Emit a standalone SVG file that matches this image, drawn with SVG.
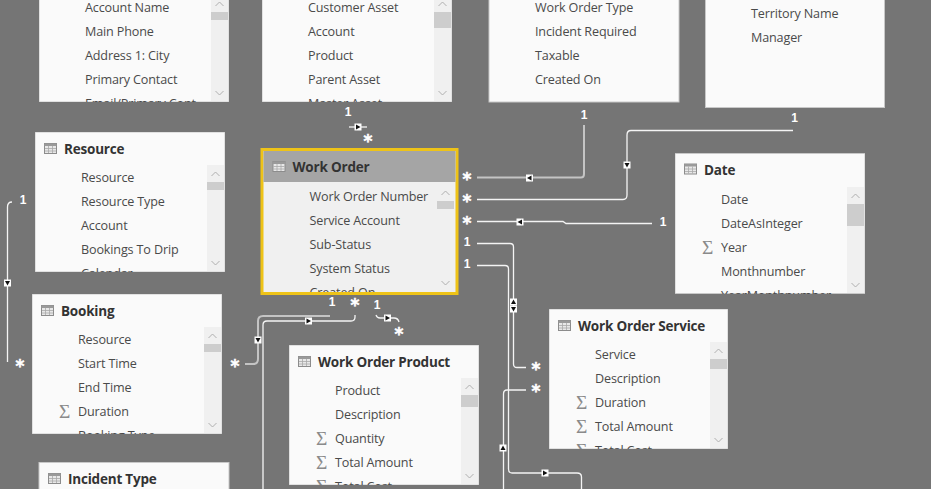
<svg xmlns="http://www.w3.org/2000/svg" xmlns:xlink="http://www.w3.org/1999/xlink" width="931" height="489" viewBox="0 0 931 489">
<style>
.card{fill:#fafafa;stroke:#c8c8c8;stroke-width:1}
.track{fill:#f0f0f0}
.thumb{fill:#cdcdcd}
.row{font:12.600px "Open Sans","Noto Sans",sans-serif;letter-spacing:-0.15px;fill:#4a4a4a}
.title{font:bold 13.500px "Open Sans","Noto Sans",sans-serif;letter-spacing:-0.2px;fill:#333}
.sig{font:19.500px "Liberation Serif",serif;fill:#8a8a8a}
.chev{fill:none;stroke:#b0b0b0;stroke-width:1}
.ln{fill:none;stroke:#f4f4f4;stroke-width:1.300}
.ln2{fill:none;stroke:#c4c4c4;stroke-width:2}
.one{font:bold 12px "Liberation Sans",sans-serif;fill:#fff;text-anchor:middle}
.star{font:bold 17px "DejaVu Sans",sans-serif;fill:#fff;stroke:#fff;stroke-width:0.500;text-anchor:middle}
</style>
<defs>
<g id="tbl"><rect x="0.5" y="0.5" width="12" height="10" fill="#e8e8e8" stroke="#8c8c8c"/><rect x="0.5" y="0.5" width="12" height="2.5" fill="#9a9a9a"/><path d="M4.5 3v7M8.5 3v7M1 5.5h11M1 8h11" stroke="#a8a8a8" fill="none" stroke-width="0.8"/></g>
<g id="up"><path class="chev" d="M-4 2L0 -2L4 2"/></g>
<g id="dn"><path class="chev" d="M-4 -2L0 2L4 -2"/></g>
<g id="mk"><rect x="-3.5" y="-3.5" width="7" height="7" fill="#fff"/><path d="M-2 -2.5L2.5 0L-2 2.5Z" fill="#111"/></g>
<clipPath id="c1"><rect x="39" y="0" width="190" height="102"/></clipPath>
<clipPath id="c2"><rect x="262" y="0" width="190" height="102"/></clipPath>
<clipPath id="c5"><rect x="35" y="132" width="190" height="140"/></clipPath>
<clipPath id="c6"><rect x="263" y="151" width="192" height="141"/></clipPath>
<clipPath id="c7"><rect x="675" y="153" width="190" height="141"/></clipPath>
<clipPath id="c8"><rect x="32" y="294" width="190" height="140"/></clipPath>
<clipPath id="c9"><rect x="289" y="345" width="190" height="140"/></clipPath>
<clipPath id="c10"><rect x="549" y="309" width="179" height="140"/></clipPath>
</defs>
<rect width="931" height="489" fill="#757575"/>

<g id="connectors">
<path class="ln" d="M12 202Q7.500 202 7.500 207V362"/>
<path class="ln" d="M349 127H367"/>
<path class="ln2" d="M584 125V174Q584 177.500 581 177.500H477"/>
<path class="ln" d="M793 130.500H631Q627 130.500 627 135V195Q627 199.500 623 199.500H477"/>
<path class="ln" d="M477 221.500H563L566 223.500H652"/>
<path class="ln" d="M477 243.500H510Q513.500 243.500 513.500 247V364Q513.500 367.500 517 367.500H526"/>
<path class="ln" d="M477 265.500H505Q508.500 265.500 508.500 269V469Q508.500 473 512 473H577Q581.500 473 581.500 477V489"/>
<path class="ln" d="M526 390H507Q503.500 390 503.500 394V489"/>
<path class="ln2" d="M245 364H253Q258 364 258 359V321Q258 316 263 316H330"/>
<path class="ln" d="M355 315V317Q355 321 351 321H267Q263 321 263 325V489"/>
<path class="ln" d="M376 315Q377 318 380 318H394Q398 318 399 322"/>
<use xlink:href="#mk" href="#mk" transform="translate(7.500 283) rotate(90)"/>
<use xlink:href="#mk" href="#mk" transform="translate(358 127)"/>
<use xlink:href="#mk" href="#mk" transform="translate(529.500 178) rotate(180)"/>
<use xlink:href="#mk" href="#mk" transform="translate(627 165) rotate(90)"/>
<use xlink:href="#mk" href="#mk" transform="translate(520 222) rotate(180)"/>
<use xlink:href="#mk" href="#mk" transform="translate(513.500 302) rotate(-90)"/>
<use xlink:href="#mk" href="#mk" transform="translate(513.500 309) rotate(90)"/>
<use xlink:href="#mk" href="#mk" transform="translate(545 473)"/>
<use xlink:href="#mk" href="#mk" transform="translate(503 448) rotate(-90)"/>
<use xlink:href="#mk" href="#mk" transform="translate(258 340) rotate(90)"/>
<use xlink:href="#mk" href="#mk" transform="translate(308.500 321)"/>
<use xlink:href="#mk" href="#mk" transform="translate(387.500 318)"/>
<text class="one" x="23" y="204">1</text>
<text class="star" x="20" y="372">*</text>
<text class="one" x="348" y="116">1</text>
<text class="star" x="368" y="147">*</text>
<text class="one" x="584" y="119">1</text>
<text class="one" x="794.500" y="122">1</text>
<text class="one" x="663" y="226">1</text>
<text class="star" x="467" y="185">*</text>
<text class="star" x="467" y="207">*</text>
<text class="star" x="467" y="229">*</text>
<text class="one" x="467" y="246">1</text>
<text class="one" x="467" y="268">1</text>
<text class="star" x="536" y="375">*</text>
<text class="star" x="536" y="397">*</text>
<text class="star" x="235" y="372">*</text>
<text class="one" x="332" y="306">1</text>
<text class="star" x="355" y="311">*</text>
<text class="one" x="377" y="309">1</text>
<text class="star" x="399" y="340">*</text>
</g>

<g id="node-account" clip-path="url(#c1)">
<rect class="card" x="39" y="-5" width="190" height="107"/>
<rect class="track" x="211" y="0" width="17" height="101"/><rect class="thumb" x="211" y="12" width="17" height="8"/>
<use xlink:href="#up" href="#up" x="219.500" y="4"/><use xlink:href="#dn" href="#dn" x="219.500" y="93"/>
<text class="row" x="85" y="12">Account Name</text><text class="row" x="85" y="36">Main Phone</text><text class="row" x="85" y="60">Address 1: City</text><text class="row" x="85" y="84">Primary Contact</text><text class="row" x="85" y="108">Email/Primary Cont</text>
</g>
<g id="node-asset" clip-path="url(#c2)">
<rect class="card" x="262" y="-5" width="190" height="107"/>
<rect class="track" x="434" y="0" width="17" height="101"/><rect class="thumb" x="434" y="12" width="17" height="16"/>
<use xlink:href="#up" href="#up" x="442.500" y="4"/><use xlink:href="#dn" href="#dn" x="442.500" y="93"/>
<text class="row" x="308" y="12">Customer Asset</text><text class="row" x="308" y="36">Account</text><text class="row" x="308" y="60">Product</text><text class="row" x="308" y="84">Parent Asset</text><text class="row" x="308" y="108">Master Asset</text>
</g>
<g id="node-type">
<rect class="card" x="489" y="-5" width="190" height="107"/>
<text class="row" x="535" y="12">Work Order Type</text><text class="row" x="535" y="36">Incident Required</text><text class="row" x="535" y="60">Taxable</text><text class="row" x="535" y="84">Created On</text>
</g>
<g id="node-territory">
<rect class="card" x="705.500" y="-5" width="179" height="112.500"/>
<text class="row" x="751" y="18">Territory Name</text><text class="row" x="751" y="42">Manager</text>
</g>

<g id="node-resource" clip-path="url(#c5)">
<rect class="card" x="35" y="132" width="190" height="140"/>
<use xlink:href="#tbl" href="#tbl" x="44" y="143"/>
<text class="title" x="64" y="154">Resource</text>
<rect class="track" x="207" y="165" width="17" height="106"/><rect class="thumb" x="207" y="182" width="17" height="8"/>
<use xlink:href="#up" href="#up" x="215.500" y="174"/><use xlink:href="#dn" href="#dn" x="215.500" y="263"/>
<text class="row" x="81" y="182">Resource</text><text class="row" x="81" y="206">Resource Type</text><text class="row" x="81" y="230">Account</text><text class="row" x="81" y="254">Bookings To Drip</text><text class="row" x="81" y="278">Calendar</text>
</g>

<g id="node-work-order">
<rect x="262" y="149.500" width="195" height="144" fill="#f0f0f0" stroke="#eec318" stroke-width="3"/>
<rect x="263.500" y="151" width="192" height="31" fill="#a5a5a5"/>
<use xlink:href="#tbl" href="#tbl" x="272.500" y="161"/>
<text class="title" x="292.500" y="172">Work Order</text>
<rect class="thumb" x="437" y="201" width="17" height="8"/>
<use xlink:href="#up" href="#up" x="445.500" y="193"/><use xlink:href="#dn" href="#dn" x="445.500" y="283"/>
<g clip-path="url(#c6)"><text class="row" x="309.500" y="201">Work Order Number</text><text class="row" x="309.500" y="225">Service Account</text><text class="row" x="309.500" y="249">Sub-Status</text><text class="row" x="309.500" y="273">System Status</text><text class="row" x="309.500" y="297">Created On</text></g>
</g>

<g id="node-date" clip-path="url(#c7)">
<rect class="card" x="675" y="153.500" width="190" height="140"/>
<use xlink:href="#tbl" href="#tbl" x="684" y="163.500"/>
<text class="title" x="704" y="175">Date</text>
<rect class="track" x="847" y="187" width="17" height="106"/><rect class="thumb" x="847" y="204" width="17" height="22"/>
<use xlink:href="#up" href="#up" x="855.500" y="196"/><use xlink:href="#dn" href="#dn" x="855.500" y="285"/>
<text class="sig" x="702" y="253.500">Σ</text>
<text class="row" x="721" y="204">Date</text><text class="row" x="721" y="228">DateAsInteger</text><text class="row" x="721" y="252">Year</text><text class="row" x="721" y="276">Monthnumber</text><text class="row" x="721" y="300">YearMonthnumber</text>
</g>

<g id="node-booking" clip-path="url(#c8)">
<rect class="card" x="32" y="294" width="190" height="140"/>
<use xlink:href="#tbl" href="#tbl" x="41" y="305"/>
<text class="title" x="61" y="316">Booking</text>
<rect class="track" x="204" y="327" width="17" height="106"/><rect class="thumb" x="204" y="344" width="17" height="8"/>
<use xlink:href="#up" href="#up" x="212.500" y="336"/><use xlink:href="#dn" href="#dn" x="212.500" y="425"/>
<text class="sig" x="59" y="417.500">Σ</text>
<text class="row" x="78" y="344">Resource</text><text class="row" x="78" y="368">Start Time</text><text class="row" x="78" y="392">End Time</text><text class="row" x="78" y="416">Duration</text><text class="row" x="78" y="440">Booking Type</text>
</g>

<g id="node-work-order-product" clip-path="url(#c9)">
<rect class="card" x="289" y="345" width="190" height="140"/>
<use xlink:href="#tbl" href="#tbl" x="298" y="356"/>
<text class="title" x="318" y="367">Work Order Product</text>
<rect class="track" x="461" y="378" width="17" height="106"/><rect class="thumb" x="461" y="395" width="17" height="12"/>
<use xlink:href="#up" href="#up" x="469.500" y="387"/><use xlink:href="#dn" href="#dn" x="469.500" y="476"/>
<text class="sig" x="316" y="444.500">Σ</text><text class="sig" x="316" y="468.500">Σ</text><text class="sig" x="316" y="492.500">Σ</text>
<text class="row" x="335" y="395">Product</text><text class="row" x="335" y="419">Description</text><text class="row" x="335" y="443">Quantity</text><text class="row" x="335" y="467">Total Amount</text><text class="row" x="335" y="491">Total Cost</text>
</g>

<g id="node-work-order-service" clip-path="url(#c10)">
<rect class="card" x="549" y="309" width="179" height="140"/>
<use xlink:href="#tbl" href="#tbl" x="558" y="320"/>
<text class="title" x="578" y="331">Work Order Service</text>
<rect class="track" x="710" y="342" width="17" height="106"/><rect class="thumb" x="710" y="359" width="17" height="10"/>
<use xlink:href="#up" href="#up" x="718.500" y="351"/><use xlink:href="#dn" href="#dn" x="718.500" y="440"/>
<text class="sig" x="576" y="408.500">Σ</text><text class="sig" x="576" y="432.500">Σ</text><text class="sig" x="576" y="456.500">Σ</text>
<text class="row" x="595" y="359">Service</text><text class="row" x="595" y="383">Description</text><text class="row" x="595" y="407">Duration</text><text class="row" x="595" y="431">Total Amount</text><text class="row" x="595" y="455">Total Cost</text>
</g>

<g id="node-incident-type">
<rect class="card" x="39" y="462.500" width="190" height="40"/>
<use xlink:href="#tbl" href="#tbl" x="48" y="473"/>
<text class="title" x="68" y="484">Incident Type</text>
</g>
</svg>
